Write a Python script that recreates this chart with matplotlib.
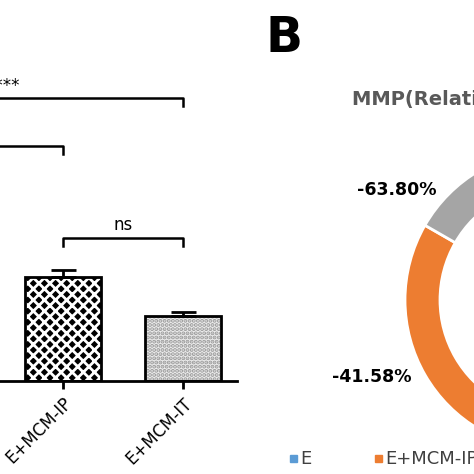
import matplotlib
matplotlib.use("Agg")
import matplotlib.pyplot as plt
from matplotlib.patches import Rectangle

groups = ["E", "E+MCM", "E+MCM-IP", "E+MCM-IT"]
values = [100, 30, 45.7, 28.6]
errors = [4, 3, 3.0, 1.8]
pct_labels = ["-63.80%", "-41.58%"]
pie_groups = ["E", "E+MCM-IP", "E+MCM-IT"]
pie_sizes = [50, 33.3, 16.7]
pie_colors = ["#5B9BD5", "#ED7D31", "#A5A5A5"]

W = 474
plt.rcParams['hatch.linewidth'] = 2.0
fig = plt.figure(figsize=(4.74, 4.74), dpi=100)

ax = fig.add_axes([-249 / W, 93 / W, 486 / W, 341 / W])
ax.set_xlim(-0.6, 3.45)
ax.set_ylim(0, 150)
x = list(range(len(groups)))
styles = [dict(fc="black", hatch="xxx", hc="white"), dict(fc="white", hatch="", hc="black"),
          dict(fc="black", hatch="xxx", hc="white"), dict(fc="#ececec", hatch="....", hc="#999999")]
for xi, v, e, s in zip(x, values, errors, styles):
    ax.bar(xi, v, width=0.63, color=s["fc"], hatch=s["hatch"], edgecolor=s["hc"], linewidth=0)
    ax.bar(xi, v, width=0.63, fill=False, edgecolor="black", linewidth=2)
    ax.errorbar(xi, v, yerr=[[0], [e]], color="black", capsize=9, elinewidth=2, capthick=2)
for sp in ["top", "right"]:
    ax.spines[sp].set_visible(False)
ax.spines["bottom"].set_linewidth(2)
ax.spines["left"].set_linewidth(2)
ax.set_xticks(x)
ax.set_xticklabels(groups, rotation=45, ha="right", rotation_mode="anchor", fontsize=12)
ax.tick_params(axis="x", width=2, length=6)
ax.set_yticks([])

def bracket(x1, x2, y, text, drop=3.5):
    ax.plot([x1, x1, x2, x2], [y - drop, y, y, y - drop], color="black", lw=1.8, clip_on=False)
    ax.text((x1 + x2) / 2, y + 1.5, text, ha="center", va="bottom", fontsize=12)

bracket(0, 3, 124.5, "****")
bracket(0, 2, 103.5, "***")
bracket(2, 3, 63, "ns")

cx, cy, R = 555, 300, 150
pax = fig.add_axes([(cx - R) / W, (W - cy - R) / W, 2 * R / W, 2 * R / W])
pax.pie(pie_sizes, colors=pie_colors, startangle=90, counterclock=False,
        wedgeprops=dict(width=35 / R, edgecolor="white", linewidth=2))
pax.set_aspect("equal")
pax.set_xlim(-1, 1); pax.set_ylim(-1, 1)

fig.text(265 / W, 1 - 52 / W, "B", fontsize=35, fontweight="bold", ha="left", va="baseline")
fig.text(352 / W, 1 - 105 / W, "MMP(Relative change)", fontsize=14, fontweight="bold",
         color="#595959", ha="left", va="baseline")
fig.text(397 / W, 1 - 190 / W, pct_labels[0], fontsize=12.5, fontweight="bold", ha="center", va="center")
fig.text(372 / W, 1 - 377 / W, pct_labels[1], fontsize=12.5, fontweight="bold", ha="center", va="center")

lx = [300, 385, 520]
for xi, g, c in zip(lx, pie_groups, pie_colors):
    fig.patches.append(Rectangle(((xi - 10) / W, 1 - 462 / W), 7 / W, 7 / W, color=c,
                                 transform=fig.transFigure, figure=fig))
    fig.text(xi / W, 1 - 459 / W, g, fontsize=13, color="#404040", ha="left", va="center")

fig.savefig("out.png", dpi=100)
